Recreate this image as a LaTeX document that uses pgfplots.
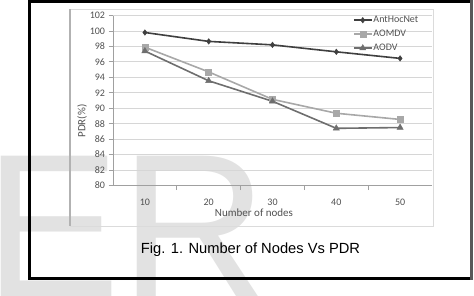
\documentclass[border=0pt]{standalone}
\usepackage{pgfplots}
\pgfplotsset{compat=1.18}
\usepackage{fontspec}
\setmainfont{Carlito}
\newfontfamily\arialfont{Liberation Sans}
\definecolor{cA}{HTML}{3F3F3F}
\definecolor{cB}{HTML}{A8A8A8}
\definecolor{cC}{HTML}{6E6E6E}
\definecolor{txt}{HTML}{505050}
\definecolor{gridc}{HTML}{D6D6D6}
\definecolor{axc}{HTML}{A0A0A0}
\definecolor{wm}{HTML}{E2E2E2}
\begin{document}
\begin{tikzpicture}
\useasboundingbox (0,0) rectangle (474pt,-295pt);
\clip (0,0) rectangle (474pt,-295pt);
% watermark
\node[anchor=base west, inner sep=0pt, outer sep=0pt, text=wm, font=\arialfont\fontsize{204}{204}\selectfont] at (-16pt,-296pt) {ER};
% chart frame
\draw[color=gray!28, line width=0.9pt] (70pt,-9pt) rectangle (433pt,-226pt);
\draw[color=gray!60, line width=1.3pt] (70pt,-9pt) -- (70pt,-226pt);
% outer frame
\draw[black, line width=2.6pt] (28pt,-1.3pt) -- (472pt,-1.3pt);
\draw[black, line width=2.4pt] (29.5pt,0pt) -- (29.5pt,-279.5pt);
\draw[black, line width=2.4pt] (28pt,-278.5pt) -- (473pt,-278.5pt);
\draw[black!65, line width=2.4pt] (471.5pt,0pt) -- (471.5pt,-279.5pt);
% caption
\node[font=\arialfont\fontsize{14.7}{17}\selectfont, text=black] at (250.5pt,-250pt) {Fig. 1. Number of Nodes Vs PDR};
\begin{axis}[
  at={(113pt,-185.5pt)}, anchor=south west,
  scale only axis, width=319pt, height=170pt,
  xmin=5, xmax=55, ymin=80, ymax=102,
  axis lines=left, axis line style={axc, line width=0.9pt, -},
  ytick={80,82,...,102},
  xtick={15,25,35,45}, xticklabels={},
  extra x ticks={10,20,30,40,50},
  extra x tick labels={10,20,30,40,50},
  extra x tick style={major tick length=0pt, grid=none, tick label style={yshift=-10pt}},
  tick align=outside, major tick length=4.5pt,
  tick style={axc, line width=0.8pt},
  ymajorgrids, grid style={gridc, line width=0.8pt},
  tick label style={font=\fontsize{10}{12}\selectfont, text=txt},
  /pgf/number format/assume math mode=true,
  xlabel={Number of nodes}, ylabel={PDR(\%)},
  label style={font=\fontsize{11}{13}\selectfont, text=txt},
  xlabel style={at={(axis description cs:0.442,-0.162)}, anchor=center},
  ylabel style={at={(axis description cs:-0.097,0.379)}, anchor=center},
  legend style={at={(axis description cs:0.752,1.006)}, anchor=north west, draw=none, fill=none,
    font=\fontsize{10}{12}\selectfont, text=txt, row sep=3pt, inner sep=0pt,
    nodes={inner sep=1pt, text height=7pt, text depth=2pt}},
  legend cell align=left,
  legend image code/.code={\draw[#1, mark=none, line width=1.4pt] plot coordinates {(0pt,0pt)(18pt,0pt)};
    \draw[#1, only marks] plot coordinates {(9pt,0pt)};},
  clip=false,
]
\addplot[cA, line width=1.6pt, mark=diamond*, mark size=2.8pt, mark options={solid, line width=0.4pt}]
  coordinates {(10,99.8) (20,98.65) (30,98.2) (40,97.3) (50,96.45)};
\addlegendentry{AntHocNet}
\addplot[cB, line width=1.6pt, mark=square*, mark size=3.0pt, mark options={solid, line width=0.4pt}]
  coordinates {(10,97.9) (20,94.7) (30,91.15) (40,89.35) (50,88.55)};
\addlegendentry{AOMDV}
\addplot[cC, line width=1.6pt, mark=triangle*, mark size=3.6pt, mark options={solid, line width=0.4pt}]
  coordinates {(10,97.4) (20,93.55) (30,90.9) (40,87.4) (50,87.5)};
\addlegendentry{AODV}
\end{axis}
\end{tikzpicture}
\end{document}
